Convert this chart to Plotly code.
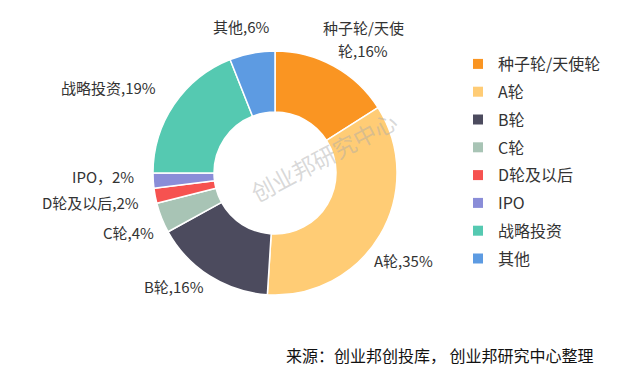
import plotly.graph_objects as go

categories = ["种子轮/天使轮", "A轮", "B轮", "C轮", "D轮及以后", "IPO", "战略投资", "其他"]
values = [16, 35, 16, 4, 2, 2, 19, 6]
label_texts = ["种子轮/天使|轮,16%", "A轮,35%", "B轮,16%", "C轮,4%", "D轮及以后,2%", "IPO，2%", "战略投资,19%", "其他,6%"]
colors = ["#FA9522", "#FFCC75", "#4C4B5E", "#A8C4B5", "#F65250", "#8A8DD8", "#55C9B1", "#5D9BE2"]
source_text = "来源：创业邦创投库， 创业邦研究中心整理"
watermark = "创业邦研究中心"

W, H = 626, 386
FONT = "Noto Sans CJK SC, Microsoft YaHei, sans-serif"
TXT = "#333333"

cx, cy, R = 275, 173, 122

def px(x):
    return x / W

def py(y):
    return 1 - y / H

fig = go.Figure()
fig.add_trace(go.Pie(
    labels=categories, values=values, hole=0.5, sort=False,
    direction="clockwise", rotation=0,
    marker=dict(colors=colors, line=dict(color="white", width=1.5)),
    textinfo="none", showlegend=False, hoverinfo="label+percent",
    domain=dict(x=[px(cx - R), px(cx + R)], y=[py(cy + R), py(cy - R)]),
))

# legend entries
for name, col in zip(categories, colors):
    fig.add_trace(go.Scatter(
        x=[None], y=[None], mode="markers", name=name, legendgroup=name,
        marker=dict(symbol="square", size=10, color=col),
    ))

# label positions (pixels, center of text); multi-line labels split on "|"
label_pos = [(363, 27), (403, 260), (174, 286), (128, 232), (90, 202), (103, 176), (108, 87), (241, 26)]
LINE_GAP = 23
annotations = []
for t, (x, y) in zip(label_texts, label_pos):
    for k, line in enumerate(t.split("|")):
        annotations.append(dict(
            text=line, x=px(x), y=py(y + k * LINE_GAP), xref="paper", yref="paper",
            xanchor="center", yanchor="middle", showarrow=False,
            font=dict(family=FONT, size=15, color=TXT), align="center",
        ))
annotations.append(dict(
    text=watermark, x=px(324), y=py(156), xref="paper", yref="paper",
    showarrow=False, textangle=-28,
    font=dict(family=FONT, size=23, color="rgba(170,170,170,0.45)"),
))
annotations.append(dict(
    text=source_text, x=px(596), y=py(355), xref="paper", yref="paper",
    xanchor="right", yanchor="middle", showarrow=False,
    font=dict(family=FONT, size=16, color="#111111"),
))

fig.update_layout(
    width=W, height=H, margin=dict(l=0, r=0, t=0, b=0),
    paper_bgcolor="white", plot_bgcolor="white",
    xaxis=dict(visible=False), yaxis=dict(visible=False),
    legend=dict(x=px(458), y=py(47), xanchor="left", yanchor="top",
                font=dict(family=FONT, size=16, color=TXT),
                tracegroupgap=4, itemclick=False),
    annotations=annotations,
    font=dict(family=FONT),
)

fig.write_html("out.html")
